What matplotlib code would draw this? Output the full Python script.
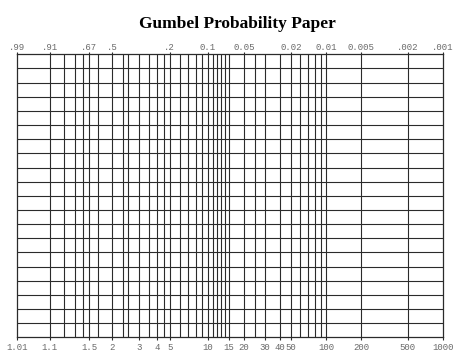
import numpy as np
import matplotlib
matplotlib.use("Agg")
from matplotlib import pyplot as plt

# return periods (years) for the vertical rulings
grid_T = [1.1, 1.2, 1.3, 1.4, 1.5, 1.67, 2, 2.33, 2.5, 3, 3.5, 4, 4.5, 5,
          6, 7, 8, 9, 10, 11, 12, 13, 14, 15, 20, 25, 30, 40, 50,
          60, 70, 80, 90, 100, 200, 500]
# bottom labels: return period
bottom_T = [1.01, 1.1, 1.5, 2, 3, 4, 5, 10, 15, 20, 30, 40, 50, 100, 200, 500, 1000]
bottom_labels = ["1.01", "1.1", "1.5", "2", "3", "4", "5", "10", "15", "20",
                 "30", "40", "50", "100", "200", "500", "1000"]
# top labels: exceedance probability
top_T = [1.01, 1.1, 1.5, 2, 5, 10, 20, 50, 100, 200, 500, 1000]
top_labels = [".99", ".91", ".67", ".5", ".2", "0.1", "0.05", "0.02",
              "0.01", "0.005", ".002", ".001"]
n_rows = 20


def gumbel(T):
    # reduced variate y = -ln(-ln(1 - 1/T))
    T = np.asarray(T, dtype=float)
    with np.errstate(all="ignore"):
        return -np.log(-np.log(1.0 - 1.0 / T))


def gumbel_inv(y):
    y = np.asarray(y, dtype=float)
    with np.errstate(all="ignore"):
        return 1.0 / (1.0 - np.exp(-np.exp(-y)))


line_col = "#2b2b2b"
lab_col = "#6a6a6a"

fig = plt.figure(figsize=(4.74, 3.63), dpi=100)
ax = fig.add_axes([0.0352, 0.0708, 0.8988, 0.7796])
ax.set_xscale("function", functions=(gumbel, gumbel_inv))
ax.set_xlim(1.01, 1000)
ax.set_ylim(0, n_rows)

for T in grid_T:
    ax.axvline(T, color=line_col, lw=0.8)
for r in range(1, n_rows):
    ax.axhline(r, color=line_col, lw=0.8)

for s in ax.spines.values():
    s.set_color(line_col)
    s.set_linewidth(0.9)

ax.set_yticks([])
ax.set_xticks(bottom_T)
ax.set_xticklabels(bottom_labels)
ax.minorticks_off()
ax.tick_params(axis="x", length=2.5, width=0.8, color=line_col, pad=1.5,
               labelsize=6.5, labelcolor=lab_col)

top = ax.twiny()
top.set_xscale("function", functions=(gumbel, gumbel_inv))
top.set_xlim(1.01, 1000)
top.set_xticks(top_T)
top.set_xticklabels(top_labels)
top.minorticks_off()
top.tick_params(axis="x", length=1.5, width=0.8, color=line_col, pad=0.5,
                labelsize=6.5, labelcolor=lab_col)
for s in top.spines.values():
    s.set_visible(False)

for lab in ax.get_xticklabels() + top.get_xticklabels():
    lab.set_family("Liberation Mono")

fig.text(0.5, 1 - 24 / 363, "Gumbel Probability Paper", ha="center", va="center",
         fontsize=12.5, fontweight="bold", family="Liberation Serif")

fig.savefig("out.png", dpi=100, facecolor="white")
